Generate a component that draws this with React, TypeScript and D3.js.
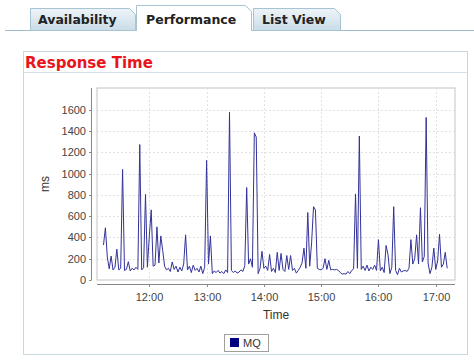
import React from 'react'
import * as d3 from 'd3'

// response time samples for MQ, one every 2 minutes from 11:12
const startTime = '11:12'
const stepMinutes = 2
const mqValues = [
  329, 492, 215, 105, 225, 95, 120, 290, 95, 110,
  1040, 90, 100, 172, 85, 110, 95, 120, 100, 1275,
  95, 115, 805, 120, 415, 660, 130, 140, 500, 160,
  415, 280, 130, 95, 110, 80, 170, 100, 130, 75,
  120, 85, 150, 425, 95, 130, 70, 140, 90, 110,
  75, 130, 60, 120, 1125, 150, 415, 60, 85, 70,
  90, 65, 80, 60, 95, 70, 1580, 90, 70, 85,
  65, 75, 95, 80, 135, 870, 150, 200, 120, 1385,
  1345, 60, 110, 270, 110, 130, 90, 240, 80, 110,
  70, 260, 90, 250, 100, 80, 230, 100, 230, 90,
  110, 65, 90, 120, 160, 300, 110, 635, 130, 350,
  690, 660, 110, 100, 95, 110, 200, 100, 185, 95,
  100, 95, 100, 90, 70, 55, 60, 55, 80, 60,
  90, 105, 810, 110, 1355, 100, 130, 90, 140, 85,
  120, 100, 140, 90, 380, 85, 120, 70, 325, 240,
  60, 120, 690, 90, 50, 110, 75, 85, 90, 80,
  110, 380, 150, 200, 425, 150, 680, 170, 220, 1530,
  160, 60, 120, 300, 100, 180, 430, 120, 150, 260,
  110,
]
const yTicks = [0, 200, 400, 600, 800, 1000, 1200, 1400, 1600]
const xTickHours = [12, 13, 14, 15, 16, 17]
const tabs = ['Availability', 'Performance', 'List View']
const seriesName = 'MQ'

const day = (h: number, m: number) => new Date(2008, 0, 1, h, m)

export default function App() {
  const [sh, sm] = startTime.split(':').map(Number)
  const data = mqValues.map((v, i) => ({ t: day(sh, sm + i * stepMinutes), v }))

  const x = d3.scaleTime()
    .domain([new Date(2008, 0, 1, 11, 5, 12), new Date(2008, 0, 1, 17, 20, 12)])
    .range([97, 455])
  const y = d3.scaleLinear().domain([0, 1807]).range([280, 88])

  const line = d3.line<{ t: Date, v: number }>()
    .x(d => x(d.t))
    .y(d => y(d.v))

  const tabGeom = [
    { x0: 30.5, x1: 135.5, top: 8.5, tx: 38, active: false },
    { x0: 136.5, x1: 251.5, top: 5.5, tx: 146, active: true },
    { x0: 253.5, x1: 340.5, top: 8.5, tx: 262, active: false },
  ]
  const tabPath = (g: typeof tabGeom[0]) =>
    `M${g.x0},30.5 L${g.x0},${g.top} L${g.x1 - 6},${g.top} L${g.x1},${g.top + 6} L${g.x1},30.5`

  const tickFont = { fontFamily: '"Liberation Sans", Arial, sans-serif', fontSize: 11, fill: '#444' }

  return (
    <svg width={474} height={362} style={{ position: 'absolute', left: 0, top: 0, background: '#fff' }}>
      <defs>
        <linearGradient id="tabg" x1="0" y1="0" x2="0" y2="1">
          <stop offset="0" stopColor="#eef4f8" />
          <stop offset="1" stopColor="#c9dce7" />
        </linearGradient>
      </defs>

      {/* tab strip */}
      <line x1={5} x2={474} y1={30.5} y2={30.5} stroke="#9fbccc" />
      {tabGeom.map((g, i) => (
        <g key={tabs[i]}>
          <path d={tabPath(g) + (g.active ? '' : ' Z')} fill={g.active ? '#fff' : 'url(#tabg)'}
            stroke="#a8c4d3" />
          {g.active && <line x1={g.x0 + 0.5} x2={g.x1 - 0.5} y1={30.5} y2={30.5} stroke="#fff" />}
          <text x={g.tx} y={23.5} fontFamily='"DejaVu Sans", Verdana, sans-serif' fontWeight="bold"
            fontSize={12.5} fill="#222">{tabs[i]}</text>
        </g>
      ))}

      {/* panel */}
      <rect x={23.5} y={51.5} width={444} height={303} fill="#fff" stroke="#c6d7e0" />
      <line x1={24} x2={467} y1={72.5} y2={72.5} stroke="#d3e0e7" />
      <text x={25} y={67.5} fontFamily='"DejaVu Sans", Verdana, sans-serif' fontWeight="bold"
        fontSize={15} fill="#e8141c">Response Time</text>

      {/* plot */}
      <rect x={97} y={88} width={358} height={192} fill="#fff" stroke="#c4c4c4" />
      {yTicks.slice(1).map(t => (
        <line key={'gy' + t} x1={97} x2={455} y1={Math.round(y(t)) + 0.5} y2={Math.round(y(t)) + 0.5}
          stroke="#e2e2e2" strokeDasharray="2,2" />
      ))}
      {xTickHours.map(h => (
        <line key={'gx' + h} x1={Math.round(x(day(h, 0))) + 0.5} x2={Math.round(x(day(h, 0))) + 0.5}
          y1={88} y2={280} stroke="#e2e2e2" strokeDasharray="2,2" />
      ))}
      <path d={line(data) || ''} fill="none" stroke="#333399" strokeWidth={1} strokeLinejoin="round" />

      {/* y axis */}
      <line x1={91.5} x2={91.5} y1={88} y2={280} stroke="#888" />
      {yTicks.map(t => (
        <g key={'ty' + t}>
          <line x1={89} x2={91.5} y1={Math.round(y(t)) + 0.5} y2={Math.round(y(t)) + 0.5} stroke="#888" />
          <text x={86} y={y(t) + 4} textAnchor="end" {...tickFont}>{t}</text>
        </g>
      ))}
      <text transform={`translate(49,${(88 + 280) / 2}) rotate(-90)`} textAnchor="middle"
        fontFamily='"Liberation Sans", Arial, sans-serif' fontSize={12} fill="#333">ms</text>

      {/* x axis */}
      <line x1={97} x2={455} y1={284.5} y2={284.5} stroke="#888" />
      {xTickHours.map(h => {
        const px = Math.round(x(day(h, 0))) + 0.5
        return (
          <g key={'tx' + h}>
            <line x1={px} x2={px} y1={284.5} y2={287} stroke="#888" />
            <text x={px} y={301} textAnchor="middle" {...tickFont}>{d3.timeFormat('%H:%M')(day(h, 0))}</text>
          </g>
        )
      })}
      <text x={276} y={319} textAnchor="middle" fontFamily='"Liberation Sans", Arial, sans-serif'
        fontSize={12} fill="#333">Time</text>

      {/* legend */}
      <rect x={224.5} y={334.5} width={44} height={17} fill="#fff" stroke="#a0a0a0" />
      <rect x={230} y={338} width={9} height={9} fill="#000080" />
      <text x={243} y={346.5} fontFamily='"Liberation Sans", Arial, sans-serif' fontSize={11}
        fill="#333">{seriesName}</text>
    </svg>
  )
}
